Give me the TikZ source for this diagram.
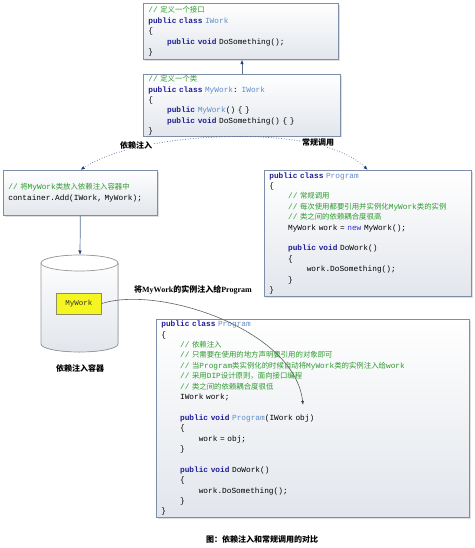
\documentclass[tikz,border=0pt]{standalone}
\usepackage{fontspec}
\setmainfont{Liberation Serif}
\setmonofont{Liberation Mono}
\newfontfamily\cjk{Noto Sans CJK SC}
\usetikzlibrary{arrows.meta,shadows}
\definecolor{kwc}{HTML}{1E1E96}
\definecolor{newc}{HTML}{3030D0}
\definecolor{tyc}{HTML}{5F8CC8}
\definecolor{cmc}{HTML}{2E9A2E}
\definecolor{bdc}{HTML}{7F8EA8}
\definecolor{boxbot}{HTML}{E2E6EC}
\definecolor{conc}{HTML}{5A6E96}
\definecolor{tipc}{HTML}{24407A}
\definecolor{yel}{HTML}{F5F520}
\definecolor{curvec}{HTML}{606060}
\newcommand\kw[1]{\textcolor{kwc}{\bfseries #1}}
\newcommand\ty[1]{\textcolor{tyc}{#1}}
\newcommand\zh[1]{{\cjk\fontsize{7.4}{10.4}\selectfont #1}}
\newcommand\cm[1]{\textcolor{cmc}{#1}}
\newcommand\tb{\phantom{xxxx}}
\newcommand\lzh[1]{{\cjk\bfseries #1}}
\tikzset{
  codebox/.style={draw=bdc, line width=0.7pt, top color=white, bottom color=boxbot,
    anchor=north west, align=left, inner xsep=5pt, inner ysep=1pt,
    font={\ttfamily\fontsize{7.8}{10.4}\selectfont},
    drop shadow={opacity=0.25, shadow xshift=1.2pt, shadow yshift=-1.2pt}},
  conn/.style={draw=conc, line width=0.7pt, -{Latex[length=4.5pt,width=3.5pt,color=tipc]}},
  dotconn/.style={draw=conc, line width=1pt, line cap=round, dash pattern=on 0pt off 2.6pt,
    -{Latex[length=4.5pt,width=3.5pt,color=tipc]}},
  injconn/.style={draw=curvec, line width=0.6pt, -{Latex[length=4pt,width=3pt,color=curvec!70!black]}},
  cylb/.style={draw=gray!80, line width=0.7pt},
  mwbox/.style={draw=gray!70!olive, line width=0.6pt, fill=yel, minimum width=45pt, minimum height=21pt,
    inner sep=1pt, font={\ttfamily\fontsize{7.5}{9}\selectfont}, text=black!80!olive},
  lbl/.style={font={\bfseries\fontsize{8}{9}\selectfont}, inner sep=1pt},
}
\begin{document}
\begin{tikzpicture}[x=1pt, y=-1pt]
\useasboundingbox (0,0) rectangle (474,548);

% interface box
\node[codebox, text width=185pt, minimum height=56pt] (b1) at (143,3) {%
\cm{// \zh{定义一个接口}}\\
\kw{public class} \ty{IWork}\\
\{\\
\tb\kw{public void} DoSomething();\\
\}};

% class box
\node[codebox, text width=187pt, minimum height=60pt] (b2) at (143,74) {%
\cm{// \zh{定义一个类}}\\
\kw{public class} \ty{MyWork}: \ty{IWork}\\
\{\\
\tb\kw{public} \ty{MyWork}() \{ \}\\
\tb\kw{public void} DoSomething() \{ \}\\
\}};

% container registration box
\node[codebox, text width=144pt, minimum height=45pt] (lb) at (3,170) {%
\cm{// \zh{将}MyWork\zh{类放入依赖注入容器中}}\\
container.Add(IWork, MyWork);};

% regular program box
\node[codebox, text width=197pt, minimum height=126pt] (pr) at (264,170) {%
\kw{public class} \ty{Program}\\
\{\\
\tb\cm{// \zh{常规调用}}\\
\tb\cm{// \zh{每次使用都要引用并实例化}MyWork\zh{类的实例}}\\
\tb\cm{// \zh{类之间的依赖耦合度很高}}\\
\tb MyWork work = \textcolor{newc}{new} MyWork();\\
\mbox{}\\
\tb\kw{public void} DoWork()\\
\tb\{\\
\tb\tb work.DoSomething();\\
\tb\}\\
\}};

% DI program box
\node[codebox, text width=303pt, minimum height=198pt] (p2) at (156,319) {%
\kw{public class} \ty{Program}\\
\{\\
\tb\cm{// \zh{依赖注入}}\\
\tb\cm{// \zh{只需要在使用的地方声明要引用的对象即可}}\\
\tb\cm{// \zh{当}Program\zh{类实例化的时候自动将}MyWork\zh{类的实例注入给}work}\\
\tb\cm{// \zh{采用}DIP\zh{设计原则，面向接口编程}}\\
\tb\cm{// \zh{类之间的依赖耦合度很低}}\\
\tb IWork work;\\
\mbox{}\\
\tb\kw{public void} \ty{Program}(IWork obj)\\
\tb\{\\
\tb\tb work = obj;\\
\tb\}\\
\mbox{}\\
\tb\kw{public void} DoWork()\\
\tb\{\\
\tb\tb work.DoSomething();\\
\tb\}\\
\}};

% cylinder (DI container)
\fill[top color=white, bottom color=boxbot]
  (41,263) -- (41,344) arc[start angle=180, end angle=360, x radius=38.5pt, y radius=8pt]
  -- (118,263) arc[start angle=0, end angle=180, x radius=38.5pt, y radius=8pt] -- cycle;
\draw[cylb] (41,263) -- (41,344) arc[start angle=180, end angle=360, x radius=38.5pt, y radius=8pt] -- (118,263);
\draw[cylb, fill=white] (79.5,263) ellipse [x radius=38.5pt, y radius=8pt];
\coordinate (cyl) at (80,255);
\node[mwbox] (mw) at (79,303.5) {MyWork};

% connectors
\coordinate (ax) at (242,0);
\draw[conn] (b2.north -| ax) -- (b1.south -| ax);
\draw[conn] (lb.south) -- (cyl);
\coordinate (dtop) at (240,136.5);
\draw[dotconn] (dtop) .. controls (170,136.5) and (110,150) .. (lb.north);
\draw[dotconn] (dtop) .. controls (300,136.5) and (345,148) .. (pr.north);
\coordinate (inj) at (303,405);
\draw[injconn] (mw.east) .. controls (160,285) and (295,330) .. (inj);

% labels
\node[lbl, fill=white] (l1) at (136,145) {\lzh{依赖注入}};
\node[lbl, fill=white] (l2) at (318,142) {\lzh{常规调用}};
\node[lbl] (l3) at (193,290) {\lzh{将}MyWork\lzh{的实例注入给}Program};
\node[lbl] (l4) at (80,368) {\lzh{依赖注入容器}};
\node[lbl] (cap) at (262,539) {\lzh{图：依赖注入和常规调用的对比}};
\end{tikzpicture}
\end{document}
